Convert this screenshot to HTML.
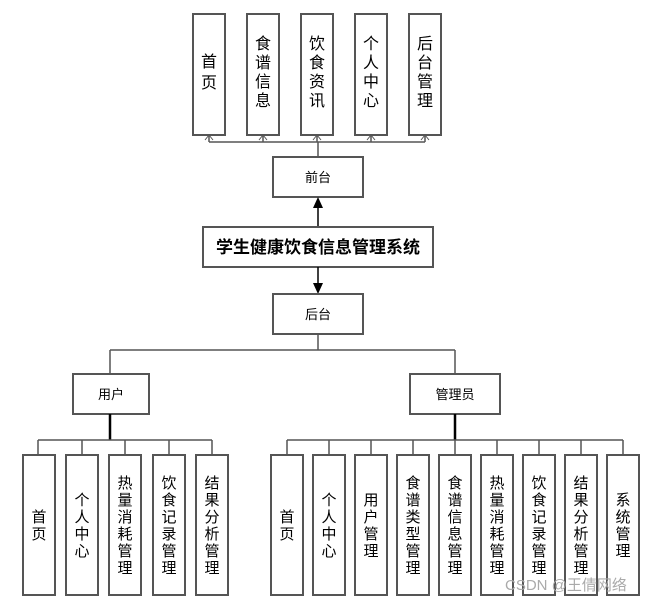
<!DOCTYPE html>
<html><head><meta charset="utf-8"><style>
html,body{margin:0;padding:0;background:#fff;}
svg{display:block;font-family:"Liberation Sans","Noto Sans CJK SC","WenQuanYi Zen Hei",sans-serif;}
.b{fill:#fff;stroke:#555;stroke-width:2;}
.l{stroke:#555;stroke-width:1.5;fill:none;}
.t{font-size:15px;fill:#000;text-anchor:middle;}
.h{font-size:13px;fill:#000;text-anchor:middle;}
</style></head><body>
<svg width="657" height="604" viewBox="0 0 657 604">
<!-- top boxes -->
<g>
<rect class="b" x="193" y="14" width="32" height="121"/>
<rect class="b" x="247" y="14" width="32" height="121"/>
<rect class="b" x="301" y="14" width="32" height="121"/>
<rect class="b" x="355" y="14" width="32" height="121"/>
<rect class="b" x="409" y="14" width="32" height="121"/>
</g>
<g class="t" style="font-size:16px">
<text x="209" y="67">首</text><text x="209" y="88">页</text>
<text x="263" y="49">食</text><text x="263" y="68">谱</text><text x="263" y="87">信</text><text x="263" y="106">息</text>
<text x="317" y="49">饮</text><text x="317" y="68">食</text><text x="317" y="87">资</text><text x="317" y="106">讯</text>
<text x="371" y="49">个</text><text x="371" y="68">人</text><text x="371" y="87">中</text><text x="371" y="106">心</text>
<text x="425" y="49">后</text><text x="425" y="68">台</text><text x="425" y="87">管</text><text x="425" y="106">理</text>
</g>
<!-- top bus -->
<path class="l" d="M209 142H425 M209 142V136 M263 142V136 M317 142V136 M371 142V136 M425 142V136 M318 142V157"/>
<path class="l" style="stroke-width:1" d="M205 140L209 135L213 140 M259 140L263 135L267 140 M313 140L317 135L321 140 M367 140L371 135L375 140 M421 140L425 135L429 140"/>
<rect class="b" x="273" y="157" width="90" height="40"/>
<text class="h" x="318" y="182">前台</text>
<path d="M318 227V205" stroke="#000" stroke-width="1.5"/>
<polygon points="318,197 313,208 323,208" fill="#000"/>
<rect class="b" x="203" y="227" width="230" height="40"/>
<text class="t" x="318" y="253" style="font-size:17px;font-weight:bold">学生健康饮食信息管理系统</text>
<path d="M318 267V286" stroke="#000" stroke-width="1.5"/>
<polygon points="318,294 313,283 323,283" fill="#000"/>
<rect class="b" x="273" y="294" width="90" height="40"/>
<text class="h" x="318" y="319">后台</text>
<path class="l" d="M318 334V350 M110 350H455 M110 350V374 M455 350V374"/>
<rect class="b" x="73" y="374" width="76" height="40"/>
<text class="h" x="111" y="399">用户</text>
<rect class="b" x="410" y="374" width="90" height="40"/>
<text class="h" x="455" y="399">管理员</text>
<path d="M110 414V440 M455 414V440" stroke="#000" stroke-width="2.5"/>
<path class="l" d="M38 440H212 M38 440V455 M82 440V455 M125 440V455 M169 440V455 M212 440V455"/>
<path class="l" d="M287 440H623 M287 440V455 M329 440V455 M371 440V455 M413 440V455 M455 440V455 M497 440V455 M539 440V455 M581 440V455 M623 440V455"/>
<!-- left boxes -->
<g>
<rect class="b" x="23" y="455" width="32" height="140"/>
<rect class="b" x="66" y="455" width="32" height="140"/>
<rect class="b" x="109" y="455" width="32" height="140"/>
<rect class="b" x="153" y="455" width="32" height="140"/>
<rect class="b" x="196" y="455" width="32" height="140"/>
</g>
<g class="t">
<text x="39" y="522">首</text><text x="39" y="539">页</text>
<text x="82" y="505">个</text><text x="82" y="522">人</text><text x="82" y="539">中</text><text x="82" y="556">心</text>
<text x="125" y="488">热</text><text x="125" y="505">量</text><text x="125" y="522">消</text><text x="125" y="539">耗</text><text x="125" y="556">管</text><text x="125" y="573">理</text>
<text x="169" y="488">饮</text><text x="169" y="505">食</text><text x="169" y="522">记</text><text x="169" y="539">录</text><text x="169" y="556">管</text><text x="169" y="573">理</text>
<text x="212" y="488">结</text><text x="212" y="505">果</text><text x="212" y="522">分</text><text x="212" y="539">析</text><text x="212" y="556">管</text><text x="212" y="573">理</text>
</g>
<!-- right boxes -->
<g>
<rect class="b" x="271" y="455" width="32" height="140"/>
<rect class="b" x="313" y="455" width="32" height="140"/>
<rect class="b" x="355" y="455" width="32" height="140"/>
<rect class="b" x="397" y="455" width="32" height="140"/>
<rect class="b" x="439" y="455" width="32" height="140"/>
<rect class="b" x="481" y="455" width="32" height="140"/>
<rect class="b" x="523" y="455" width="32" height="140"/>
<rect class="b" x="565" y="455" width="32" height="140"/>
<rect class="b" x="607" y="455" width="32" height="140"/>
</g>
<g class="t">
<text x="287" y="522">首</text><text x="287" y="539">页</text>
<text x="329" y="505">个</text><text x="329" y="522">人</text><text x="329" y="539">中</text><text x="329" y="556">心</text>
<text x="371" y="505">用</text><text x="371" y="522">户</text><text x="371" y="539">管</text><text x="371" y="556">理</text>
<text x="413" y="488">食</text><text x="413" y="505">谱</text><text x="413" y="522">类</text><text x="413" y="539">型</text><text x="413" y="556">管</text><text x="413" y="573">理</text>
<text x="455" y="488">食</text><text x="455" y="505">谱</text><text x="455" y="522">信</text><text x="455" y="539">息</text><text x="455" y="556">管</text><text x="455" y="573">理</text>
<text x="497" y="488">热</text><text x="497" y="505">量</text><text x="497" y="522">消</text><text x="497" y="539">耗</text><text x="497" y="556">管</text><text x="497" y="573">理</text>
<text x="539" y="488">饮</text><text x="539" y="505">食</text><text x="539" y="522">记</text><text x="539" y="539">录</text><text x="539" y="556">管</text><text x="539" y="573">理</text>
<text x="581" y="488">结</text><text x="581" y="505">果</text><text x="581" y="522">分</text><text x="581" y="539">析</text><text x="581" y="556">管</text><text x="581" y="573">理</text>
<text x="623" y="505">系</text><text x="623" y="522">统</text><text x="623" y="539">管</text><text x="623" y="556">理</text>
</g>
<text x="505" y="590" style="font-size:15px;fill:#aaa">CSDN @王倩网络</text>
</svg>
</body></html>
